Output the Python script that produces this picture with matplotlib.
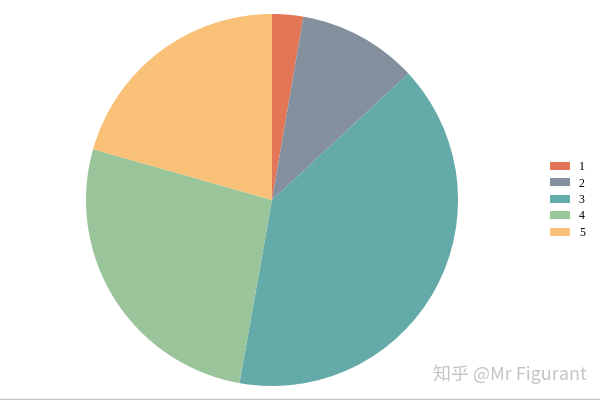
import matplotlib
matplotlib.use("Agg")
import matplotlib.pyplot as plt
from matplotlib.lines import Line2D

labels = ["1", "2", "3", "4", "5"]
values = [2.7, 10.4, 39.7, 26.6, 20.6]
colors = ["#E27657", "#85909E", "#63AAA8", "#9AC49A", "#F9C177"]

fig = plt.figure(figsize=(6, 4), dpi=100)
fig.patch.set_facecolor("white")

ax = fig.add_axes([86 / 600, 14 / 400, 372 / 600, 372 / 400])
wedges, _ = ax.pie(values, colors=colors, startangle=90, counterclock=False,
                   radius=1.0, wedgeprops=dict(linewidth=0))
ax.set_xlim(-1, 1)
ax.set_ylim(-1, 1)
ax.set_aspect("equal")
ax.axis("off")

leg = fig.legend(wedges, labels, loc="center left",
                 bbox_to_anchor=(550 / 600, 1 - 200 / 400),
                 bbox_transform=fig.transFigure,
                 frameon=False, borderpad=0, borderaxespad=0,
                 handlelength=1.7, handleheight=0.68, handletextpad=0.75,
                 labelspacing=0.38,
                 prop=dict(family="Liberation Serif", size=8.5))

fig.text(587 / 600, 1 - 374 / 400, "知乎 @Mr Figurant", ha="right", va="center",
         color="#c4c4c4", fontsize=13,
         family=["Noto Sans CJK SC", "DejaVu Sans"])

fig.add_artist(Line2D([0, 1], [1.0 / 400, 1.0 / 400], transform=fig.transFigure,
                      color="#c4c4c4", linewidth=1.0))

fig.savefig("out.png", dpi=100, facecolor="white")
